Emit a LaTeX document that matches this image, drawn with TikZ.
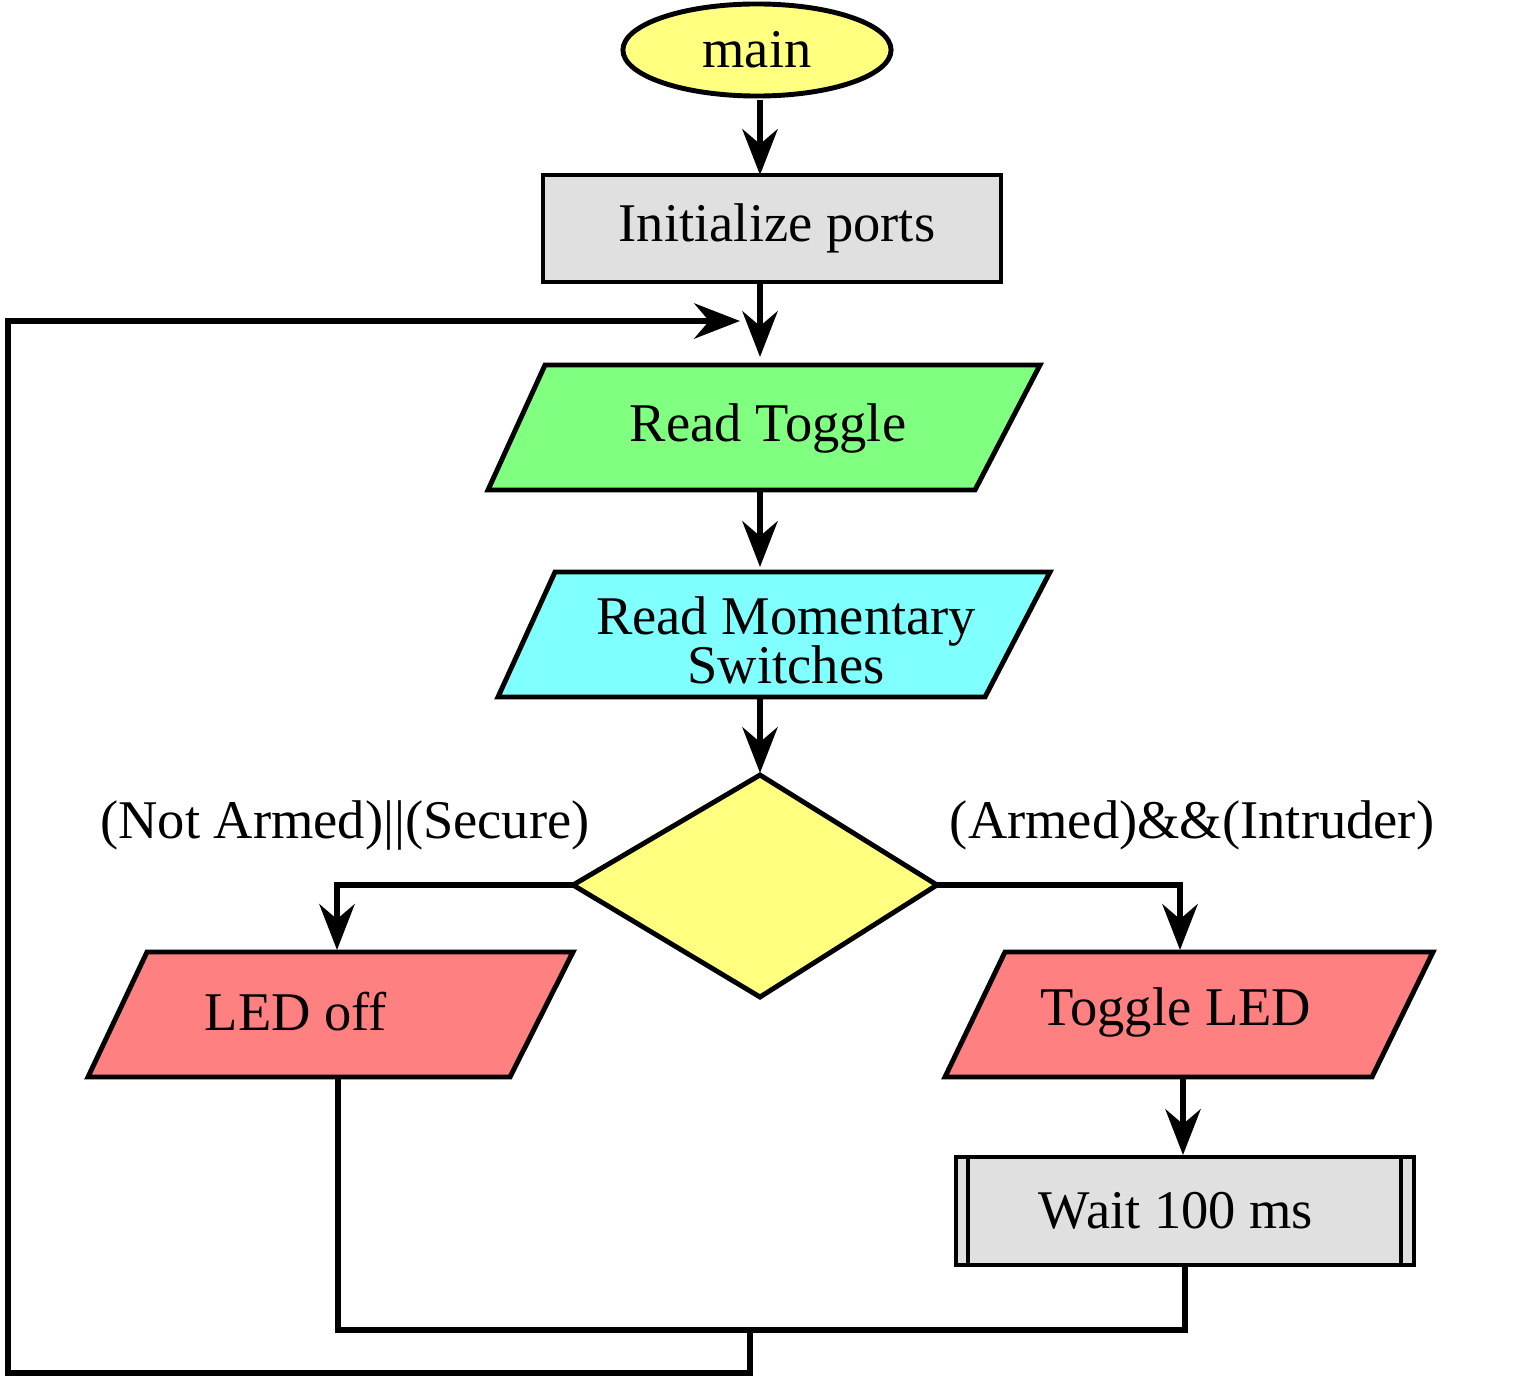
\documentclass[tikz,border=0pt]{standalone}
\usepackage{fontspec}
\setmainfont{Liberation Serif}
\usetikzlibrary{arrows.meta,shapes.geometric}
\begin{document}
\begin{tikzpicture}[x=0.01cm,y=-0.01cm,
  box/.style={draw,line width=1.4pt},
  wire/.style={line width=1.8pt},
  arr/.style={wire,-{Stealth[length=13pt,width=10pt]}},
  txt/.style={font=\fontsize{15.5}{17}\selectfont,align=center}]
\useasboundingbox (0,0) rectangle (1515,1379);
\definecolor{yel}{HTML}{FFFF80}\definecolor{gry}{HTML}{E0E0E0}
\definecolor{grn}{HTML}{80FF80}\definecolor{cyn}{HTML}{80FFFF}\definecolor{rd}{HTML}{FF8080}
% main
\node[ellipse,draw,line width=1.4pt,fill=yel,minimum width=268\pgflinewidth,inner sep=0,
  minimum width=2.68cm,minimum height=0.92cm,txt] (main) at (757,50) {main};
% init
\draw[box,fill=gry] (543,175) rectangle (1001,282);
\node[txt] (init) at (777,228) {Initialize ports};
% read toggle
\draw[box,fill=grn] (545,365) -- (1040,365) -- (975,490) -- (488,490) -- cycle;
\node[txt] (rt) at (768,428) {Read Toggle};
% momentary
\draw[box,fill=cyn] (555,572) -- (1050,572) -- (985,697) -- (498,697) -- cycle;
\node[txt] (rm) at (786,640) {Read Momentary\\[-3pt]Switches};
% diamond
\draw[box,fill=yel] (760,775) -- (937,885) -- (760,997) -- (573,885) -- cycle;
\coordinate (dt) at (760,775); \coordinate (dl) at (573,885); \coordinate (dr) at (937,885);
% LED off
\draw[box,fill=rd] (147,952) -- (573,952) -- (510,1077) -- (88,1077) -- cycle;
\node[txt] (off) at (296,1012) {LED off};
% toggle LED
\draw[box,fill=rd] (1005,952) -- (1433,952) -- (1372,1077) -- (945,1077) -- cycle;
\node[txt] (tl) at (1176,1012) {Toggle LED};
% wait
\draw[box,fill=gry] (956,1157) rectangle (1414,1265);
\draw[line width=1.4pt] (968,1157) -- (968,1265) (1401,1157) -- (1401,1265);
\node[txt] (wt) at (1176,1211) {Wait 100 ms};
% labels
\node[txt] (l1) at (345,825) {(Not Armed)||(Secure)};
\node[txt] (l2) at (1192,825) {(Armed)\&\&(Intruder)};
% connectors
\coordinate (a1) at (760,100); \coordinate (a1e) at (760,175);
\coordinate (a2) at (760,282); \coordinate (a2e) at (760,357);
\coordinate (a3) at (760,490); \coordinate (a3e) at (760,567);
\coordinate (a4) at (760,697); \coordinate (a4e) at (760,773);
\draw[arr] (a1) -- (a1e);
\draw[arr] (a2) -- (a2e);
\draw[arr] (a3) -- (a3e);
\draw[arr] (a4) -- (a4e);
\coordinate (offtop) at (337,950); \coordinate (tltop) at (1180,950);
\draw[arr] (dl) -| (offtop);
\draw[arr] (dr) -| (tltop);
\coordinate (tlb) at (1183,1077); \coordinate (wtt) at (1183,1155);
\draw[arr] (tlb) -- (wtt);
\coordinate (wtb) at (1185,1265); \coordinate (offb) at (338,1077);
\coordinate (j) at (750,1330);
\draw[wire] (wtb) |- (j) -| (offb);
\coordinate (lp) at (740,321);
\draw[arr] (j) -- (750,1373) -| (8,321) -- (lp);
\end{tikzpicture}
\end{document}
